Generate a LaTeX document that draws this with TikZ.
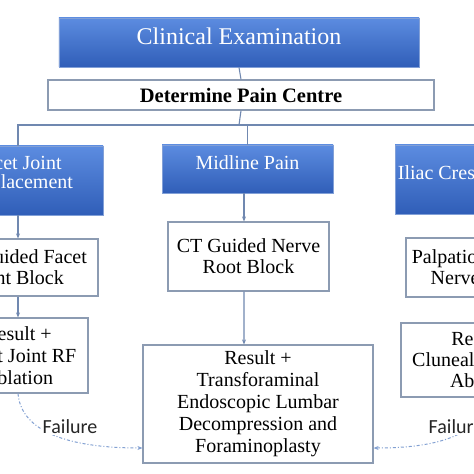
\documentclass[tikz,border=0pt]{standalone}
\usepackage{fontspec}
\setmainfont{Liberation Serif}
\newfontfamily\failfont{Carlito}
\usetikzlibrary{arrows.meta}
\definecolor{blueTop}{RGB}{92,140,224}
\definecolor{blueBot}{RGB}{48,94,184}
\definecolor{blueBorder}{RGB}{130,160,215}
\definecolor{boxBorder}{RGB}{140,155,178}
\definecolor{lineC}{RGB}{112,136,176}
\definecolor{failC}{RGB}{130,160,210}
\tikzset{
  bluebox/.style={draw=blueBorder, line width=0.8bp, top color=blueTop, bottom color=blueBot, inner sep=0pt},
  bluetext/.style={text=white, align=center, inner sep=0pt, font=\fontsize{20bp}{19bp}\selectfont},
  wbox/.style={draw=boxBorder, line width=1.2bp, fill=white, align=center, inner sep=0pt, font=\fontsize{20bp}{21bp}\selectfont},
  conn/.style={draw=lineC, line width=1.1bp},
  arr/.style={conn, -{Stealth[length=5bp,width=4bp]}},
  fail/.style={draw=failC, line width=1bp, dash pattern=on 3bp off 2bp on 1bp off 2bp, -{Stealth[length=5bp,width=4bp]}},
  faillabel/.style={fill=white, inner sep=1pt, font=\failfont\fontsize{20bp}{20bp}\selectfont, text=black!85}
}
\begin{document}
\begin{tikzpicture}[x=1bp, y=-1bp]
\useasboundingbox (0,0) rectangle (474,474);
\clip (0,0) rectangle (474,474);
\fill[white] (0,0) rectangle (474,474);

% top
\node[bluebox, minimum width=360bp, minimum height=49bp] (clin) at (239,42.5) {};
\node[bluetext, font=\fontsize{24bp}{24bp}\selectfont] (clintext) at (239,36) {Clinical Examination};
\node[wbox, minimum width=386bp, minimum height=30bp, font=\bfseries\fontsize{20.5bp}{21bp}\selectfont] (det) at (241,95) {Determine Pain Centre};

% level 2
\node[bluebox, minimum width=170bp, minimum height=69bp] (facet) at (18,180.5) {};
\node[bluetext] (facettext) at (18,175) {Facet Joint\\Displacement};
\node[bluebox, minimum width=171bp, minimum height=48bp] (mid) at (247.5,169) {};
\node[bluetext] (midtext) at (247.5,163) {Midline Pain};
\node[bluebox, minimum width=176bp, minimum height=69bp] (iliac) at (483,179.5) {};
\node[bluetext] (iliactext) at (459.5,173) {Iliac Crest Pain};

% level 3
\node[wbox, minimum width=160bp, minimum height=57bp] (guided) at (18,267.5) {CT Guided Facet\\Joint Block};
\node[wbox, minimum width=161bp, minimum height=69bp] (ct) at (248.5,256.5) {CT Guided Nerve\\Root Block};
\node[wbox, minimum width=151bp, minimum height=59bp] (palp) at (481.5,267.5) {Palpation Guided\\Nerve Block};

% level 4
\node[wbox, minimum width=140bp, minimum height=75bp, font=\fontsize{20bp}{22bp}\selectfont] (resf) at (18,355.5) {Result +\\Facet Joint RF\\Ablation};
\node[wbox, minimum width=168bp, minimum height=74bp] (clun) at (485,360) {Result +\\Cluneal Nerve RF\\Ablation};
\node[wbox, minimum width=230bp, minimum height=118bp, font=\fontsize{20bp}{22bp}\selectfont] (big) at (258,404) {Result +\\Transforaminal\\Endoscopic Lumbar\\Decompression and\\Foraminoplasty};

% connectors
\coordinate (bus) at (239,125);
\draw[conn] (clin.south) -- (det.north);
\draw[conn] (det.south) -- (bus);
\draw[conn] (bus) -| (facet.north);
\draw[conn] (bus) -| (mid.north);
\draw[conn] (bus) -| (iliac.north);
\draw[arr] (facet.south) -- (guided.north);
\draw[arr] (guided.south) -- (resf.north);
\draw[arr] ([xshift=-3.5bp]mid.south) -- ([xshift=-4.5bp]ct.north);
\draw[arr] ([xshift=-4.5bp]ct.south) -- ([xshift=-14bp]big.north);
\draw[arr] (iliac.south) -- (palp.north);
\draw[arr] (palp.south) -- (clun.north);

% failure curves
\draw[fail] (resf.south) .. controls (22,440) and (90,448) .. ([yshift=-44bp]big.west);
\draw[fail] (clun.south) .. controls (482,440) and (425,448) .. ([yshift=-44bp]big.east);
\node[faillabel] (failL) at (70,427) {Failure};
\node[faillabel] (failR) at (456,427) {Failure};
\end{tikzpicture}
\end{document}
